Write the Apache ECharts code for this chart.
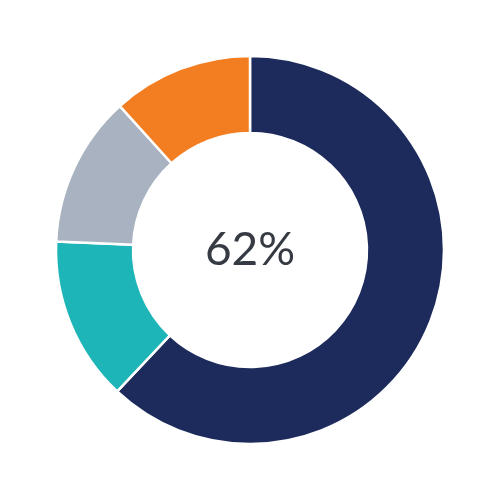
<!DOCTYPE html>
<html>
<head>
<meta charset="utf-8">
<script src="https://cdn.jsdelivr.net/npm/echarts@6/dist/echarts.min.js"></script>
<style>
  html, body { margin: 0; padding: 0; background: #fff; }
  #chart { width: 500px; height: 500px; }
</style>
</head>
<body>
<div id="chart"></div>
<script>
// slices clockwise from 12 o'clock
var names = ['Navy', 'Teal', 'Gray', 'Orange']
var values = [62, 13.7, 12.6, 11.7]
var colors = ['#1c2b5b', '#1db5b8', '#a8b2c0', '#f37d21']
var centerLabel = '62%'

var chart = echarts.init(document.getElementById('chart'), null, { renderer: 'canvas' })

var data = []
for (var i = 0; i < names.length; i++) {
  data.push({ name: names[i], value: values[i], itemStyle: { color: colors[i] } })
}

var option = {
  animation: false,
  title: {
    text: centerLabel,
    left: 'center',
    top: 'middle',
    textStyle: {
      fontFamily: 'Lato',
      fontWeight: 'normal',
      fontSize: 46,
      color: '#363b43'
    }
  },
  series: [{
    type: 'pie',
    center: [250, 250],
    radius: [117, 194],
    startAngle: 90,
    clockwise: true,
    label: { show: false },
    labelLine: { show: false },
    emphasis: { disabled: true },
    itemStyle: { borderColor: '#fff', borderWidth: 2.5 },
    data: data
  }]
}

chart.setOption(option)
</script>
</body>
</html>
